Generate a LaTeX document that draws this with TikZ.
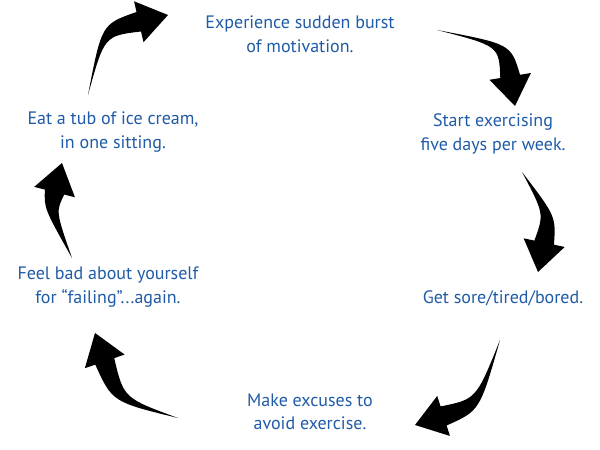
\documentclass[tikz,border=0pt]{standalone}
\usepackage{fontspec}
\setmainfont{PT Sans}
\usetikzlibrary{calc}
\definecolor{tblue}{HTML}{1F5BA6}
\tikzset{lbl/.style={text=tblue,align=center,font=\fontsize{18}{23.5}\selectfont}}
\newcommand\tarr[4]{% tail, control, tip, name
 \coordinate (#4A) at #1; \coordinate (#4C) at #2; \coordinate (#4B) at #3;
 \coordinate (#4H) at ($(#4B)!30pt!(#4C)$);
 \coordinate (#4W1) at ($(#4H)!21pt!90:(#4B)$);
 \coordinate (#4W2) at ($(#4H)!21pt!-90:(#4B)$);
 \coordinate (#4O1) at ($(#4H)!10pt!90:(#4B)$);
 \coordinate (#4O2) at ($(#4H)!10pt!-90:(#4B)$);
 \coordinate (#4P1) at ($(#4C)+0.6*(#4O1)-0.6*(#4H)$);
 \coordinate (#4P2) at ($(#4C)+0.6*(#4O2)-0.6*(#4H)$);
 \fill[black] (#4A) .. controls (#4P1) .. (#4O1) -- (#4W1) -- (#4B) -- (#4W2) -- (#4O2) .. controls (#4P2) .. (#4A) -- cycle;
}
\begin{document}
\begin{tikzpicture}[x=1pt,y=-1pt]
\useasboundingbox (0,0) rectangle (600,450);
\node[lbl] (n1) at (300,34) {Experience sudden burst\\of motivation.};
\node[lbl] (n2) at (493,134) {Start exercising\\five days per week.};
\node[lbl] (n3) at (503,298) {Get sore/tired/bored.};
\node[lbl] (n4) at (310,412) {Make excuses to\\avoid exercise.};
\node[lbl] (n5) at (108,287) {Feel bad about yourself\\for “failing”...again.};
\node[lbl] (n6) at (113,132) {Eat a tub of ice cream,\\in one sitting.};
\tarr{(437,30)}{(505,45)}{(515,106)}{a}
\tarr{(522,172)}{(550,215)}{(538,272)}{b}
\tarr{(500,340)}{(478,405)}{(415,425)}{c}
\tarr{(178,418)}{(118,400)}{(95,333)}{d}
\tarr{(72,258)}{(50,210)}{(62,163)}{e}
\tarr{(88,95)}{(103,30)}{(168,15)}{f}
\end{tikzpicture}
\end{document}
